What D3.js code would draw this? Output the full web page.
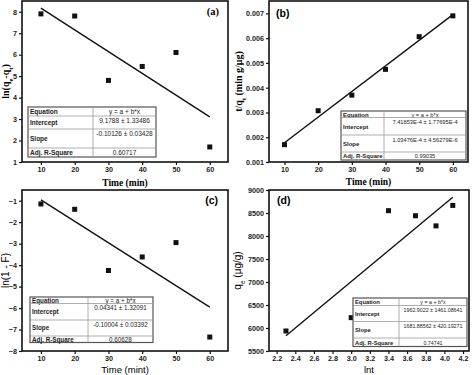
<!DOCTYPE html>
<html>
<head>
<meta charset="utf-8">
<script src="https://cdn.jsdelivr.net/npm/d3@7"></script>
<style>
  body { margin: 0; background: #fff; }
  svg { display: block; }
  .tick text { font-family: Arial, "Liberation Sans", sans-serif; font-size: 7.2px; font-weight: bold; fill: #222; }
  .tick line { stroke: #111; stroke-width: 1.2; }
</style>
</head>
<body>
<svg id="chart" width="474" height="375"></svg>
<script>
// shared x values
const timeMin = [10, 20, 30, 40, 50, 60];
const lnT = [2.30, 3.00, 3.40, 3.69, 3.91, 4.09];

// y values per panel
const lnQeQt = [7.9, 7.8, 4.8, 5.45, 6.1, 1.7];
const tOverQt = [0.00170, 0.00307, 0.00370, 0.00474, 0.00606, 0.00690];
const ln1F = [-1.15, -1.4, -4.25, -3.62, -2.95, -7.35];
const qe = [5935, 6225, 8550, 8440, 8220, 8665];

// fits: [intercept, slope]
const fitA = [9.1788, -0.10126];
const fitB = [7.41853e-4, 1.03476e-4];
const fitC = [0.04341, -0.10004];
const fitD = [1962.9022, 1681.88562];

// table texts
const rowNames = ["Equation", "Intercept", "Slope", "Adj. R-Square"];
const tableA = ["y = a + b*x", "9.1788 ± 1.33486", "-0.10126 ± 0.03428", "0.60717"];
const tableB = ["y = a + b*x", "7.41853E-4 ± 1.77695E-4", "1.03476E-4 ± 4.56279E-6", "0.99035"];
const tableC = ["y = a + b*x", "0.04341 ± 1.32091", "-0.10004 ± 0.03392", "0.60628"];
const tableD = ["y = a + b*x", "1962.9022 ± 1461.08641", "1681.88562 ± 420.19271", "0.74741"];

// tick values
const ticksTime = [10, 20, 30, 40, 50, 60];
const ticksA = [1, 2, 3, 4, 5, 6, 7, 8];
const ticksB = [0.001, 0.002, 0.003, 0.004, 0.005, 0.006, 0.007];
const ticksC = [-8, -7, -6, -5, -4, -3, -2, -1];
const ticksDy = [5500, 6000, 6500, 7000, 7500, 8000, 8500, 9000];
const ticksDx = [2.2, 2.4, 2.6, 2.8, 3.0, 3.2, 3.4, 3.6, 3.8, 4.0, 4.2];

const svg = d3.select("#chart");
const serif = "'Liberation Serif', 'DejaVu Serif', serif";
const sans = "Arial, 'Liberation Sans', sans-serif";

function drawPanel(p) {
  const x = d3.scaleLinear().domain(p.xDomain).range([p.left, p.right]);
  const y = d3.scaleLinear().domain(p.yDomain).range([p.bottom, p.top]);
  const g = svg.append("g");

  g.append("g")
    .attr("transform", `translate(0,${p.bottom})`)
    .call(d3.axisBottom(x).tickValues(p.xTicks).tickSize(3).tickPadding(2).tickFormat(p.xFmt))
    .call(s => s.select(".domain").remove());

  g.append("g")
    .attr("transform", `translate(${p.left},0)`)
    .call(d3.axisLeft(y).tickValues(p.yTicks).tickSize(3).tickPadding(2).tickFormat(p.yFmt))
    .call(s => s.select(".domain").remove());

  // frame
  g.append("rect")
    .attr("x", p.left).attr("y", p.top)
    .attr("width", p.right - p.left).attr("height", p.bottom - p.top)
    .attr("fill", "none").attr("stroke", "#111").attr("stroke-width", 1.6);

  // fit line
  const x0 = d3.min(p.xs), x1 = d3.max(p.xs);
  g.append("line")
    .attr("x1", x(x0)).attr("y1", y(p.fit[0] + p.fit[1] * x0))
    .attr("x2", x(x1)).attr("y2", y(p.fit[0] + p.fit[1] * x1))
    .attr("stroke", "#111").attr("stroke-width", 1.4);

  // points
  g.selectAll("rect.pt")
    .data(p.xs.map((v, i) => [v, p.ys[i]]))
    .enter().append("rect")
    .attr("class", "pt")
    .attr("x", d => x(d[0]) - 2.5).attr("y", d => y(d[1]) - 2.5)
    .attr("width", 5).attr("height", 5)
    .attr("fill", "#111");

  // panel label
  g.append("text")
    .attr("x", p.tagX).attr("y", p.tagY)
    .attr("text-anchor", p.tagAnchor)
    .style("font-family", p.tagFont).style("font-size", "10.5px").style("font-weight", "bold")
    .text(p.tag);

  // x title
  g.append("text")
    .attr("x", (p.left + p.right) / 2).attr("y", p.xTitleY)
    .attr("text-anchor", "middle")
    .style("font-family", p.titleFont).style("font-size", "9.5px")
    .style("font-weight", p.titleBold ? "bold" : "normal")
    .text(p.xTitle);

  // y title
  const yt = g.append("text")
    .attr("transform", `translate(${p.yTitleX},${(p.top + p.bottom) / 2}) rotate(-90)`)
    .attr("text-anchor", "middle")
    .style("font-family", p.titleFont).style("font-size", "10px")
    .style("font-weight", p.titleBold ? "bold" : "normal");
  p.yTitle.forEach(part => {
    const t = yt.append("tspan").text(part[0]);
    if (part[1]) t.attr("baseline-shift", "sub").style("font-size", "6.5px");
  });

  // stats table
  const tb = p.table;
  const tg = g.append("g");
  tg.append("rect")
    .attr("x", tb.x).attr("y", tb.y).attr("width", tb.w).attr("height", d3.sum(tb.rows))
    .attr("fill", "#fff").attr("stroke", "#555").attr("stroke-width", 1.2);
  let yy = tb.y;
  tb.rows.forEach((h, i) => {
    if (i > 0) {
      tg.append("line").attr("x1", tb.x).attr("x2", tb.x + tb.w).attr("y1", yy).attr("y2", yy)
        .attr("stroke", "#999").attr("stroke-width", 0.8);
    }
    tg.append("text")
      .attr("x", tb.x + 2).attr("y", yy + h / 2 + 2.3)
      .style("font-family", sans).style("font-size", tb.ls).style("font-weight", "bold").attr("fill", "#222")
      .text(rowNames[i]);
    const vy = (i === 1 || i === 2) ? yy + 6.8 : yy + h / 2 + 2.3;
    tg.append("text")
      .attr("x", (tb.col + tb.x + tb.w) / 2).attr("y", vy)
      .attr("text-anchor", "middle")
      .style("font-family", sans).style("font-size", tb.fs).attr("fill", "#222")
      .text(p.tableText[i]);
    yy += h;
  });
  tg.append("line").attr("x1", tb.col).attr("x2", tb.col).attr("y1", tb.y).attr("y2", tb.y + d3.sum(tb.rows))
    .attr("stroke", "#999").attr("stroke-width", 0.8);
}

drawPanel({
  xs: timeMin, ys: lnQeQt, fit: fitA, tableText: tableA,
  xDomain: [4.4, 65.4], yDomain: [1, 8.5],
  left: 22, right: 228, top: 1, bottom: 162,
  xTicks: ticksTime, yTicks: ticksA, xFmt: d3.format("d"), yFmt: d3.format("d"),
  tag: "(a)", tagX: 219, tagY: 15, tagAnchor: "end", tagFont: serif,
  xTitle: "Time (min)", xTitleY: 186, titleFont: serif, titleBold: true,
  yTitle: [["ln(q"], ["e", true], ["-q"], ["t", true], [")"]], yTitleX: 9,
  table: { x: 28, y: 107, w: 128, col: 93, rows: [9, 13, 19, 9], fs: "6.5px", ls: "6.5px" }
});

drawPanel({
  xs: timeMin, ys: tOverQt, fit: fitB, tableText: tableB,
  xDomain: [5.4, 64.5], yDomain: [0.001, 0.0075],
  left: 269, right: 468, top: 1, bottom: 162,
  xTicks: ticksTime, yTicks: ticksB, xFmt: d3.format("d"), yFmt: d3.format(".3f"),
  tag: "(b)", tagX: 276, tagY: 17, tagAnchor: "start", tagFont: sans,
  xTitle: "Time (min)", xTitleY: 185, titleFont: serif, titleBold: true,
  yTitle: [["t/q"], ["t", true], [" (min g/μg)"]], yTitleX: 242,
  table: { x: 341, y: 111, w: 125, col: 384, rows: [6.5, 17.5, 17, 8], fs: "5.7px", ls: "6px" }
});

drawPanel({
  xs: timeMin, ys: ln1F, fit: fitC, tableText: tableC,
  xDomain: [4.4, 65.4], yDomain: [-8, -0.5],
  left: 22, right: 228, top: 190, bottom: 351,
  xTicks: ticksTime, yTicks: ticksC, xFmt: d3.format("d"), yFmt: d3.format("d"),
  tag: "(c)", tagX: 218, tagY: 204, tagAnchor: "end", tagFont: sans,
  xTitle: "Time (mint)", xTitleY: 373, titleFont: sans, titleBold: false,
  yTitle: [["ln(1 - F)"]], yTitleX: 9,
  table: { x: 30, y: 297, w: 123, col: 88, rows: [6.5, 16.5, 16, 6.5], fs: "6.3px", ls: "6.3px" }
});

drawPanel({
  xs: lnT, ys: qe, fit: fitD, tableText: tableD,
  xDomain: [2.118, 4.264], yDomain: [5500, 9000],
  left: 269, right: 469, top: 190, bottom: 351,
  xTicks: ticksDx, yTicks: ticksDy, xFmt: d3.format(".1f"), yFmt: d3.format("d"),
  tag: "(d)", tagX: 277, tagY: 204, tagAnchor: "start", tagFont: sans,
  xTitle: "lnt", xTitleY: 373, titleFont: sans, titleBold: false,
  yTitle: [["q"], ["e", true], [" (μg/g)"]], yTitleX: 241,
  table: { x: 353, y: 298, w: 114, col: 399, rows: [7.5, 16, 16.5, 8.5], fs: "5.3px", ls: "5.8px" }
});
</script>
</body>
</html>
